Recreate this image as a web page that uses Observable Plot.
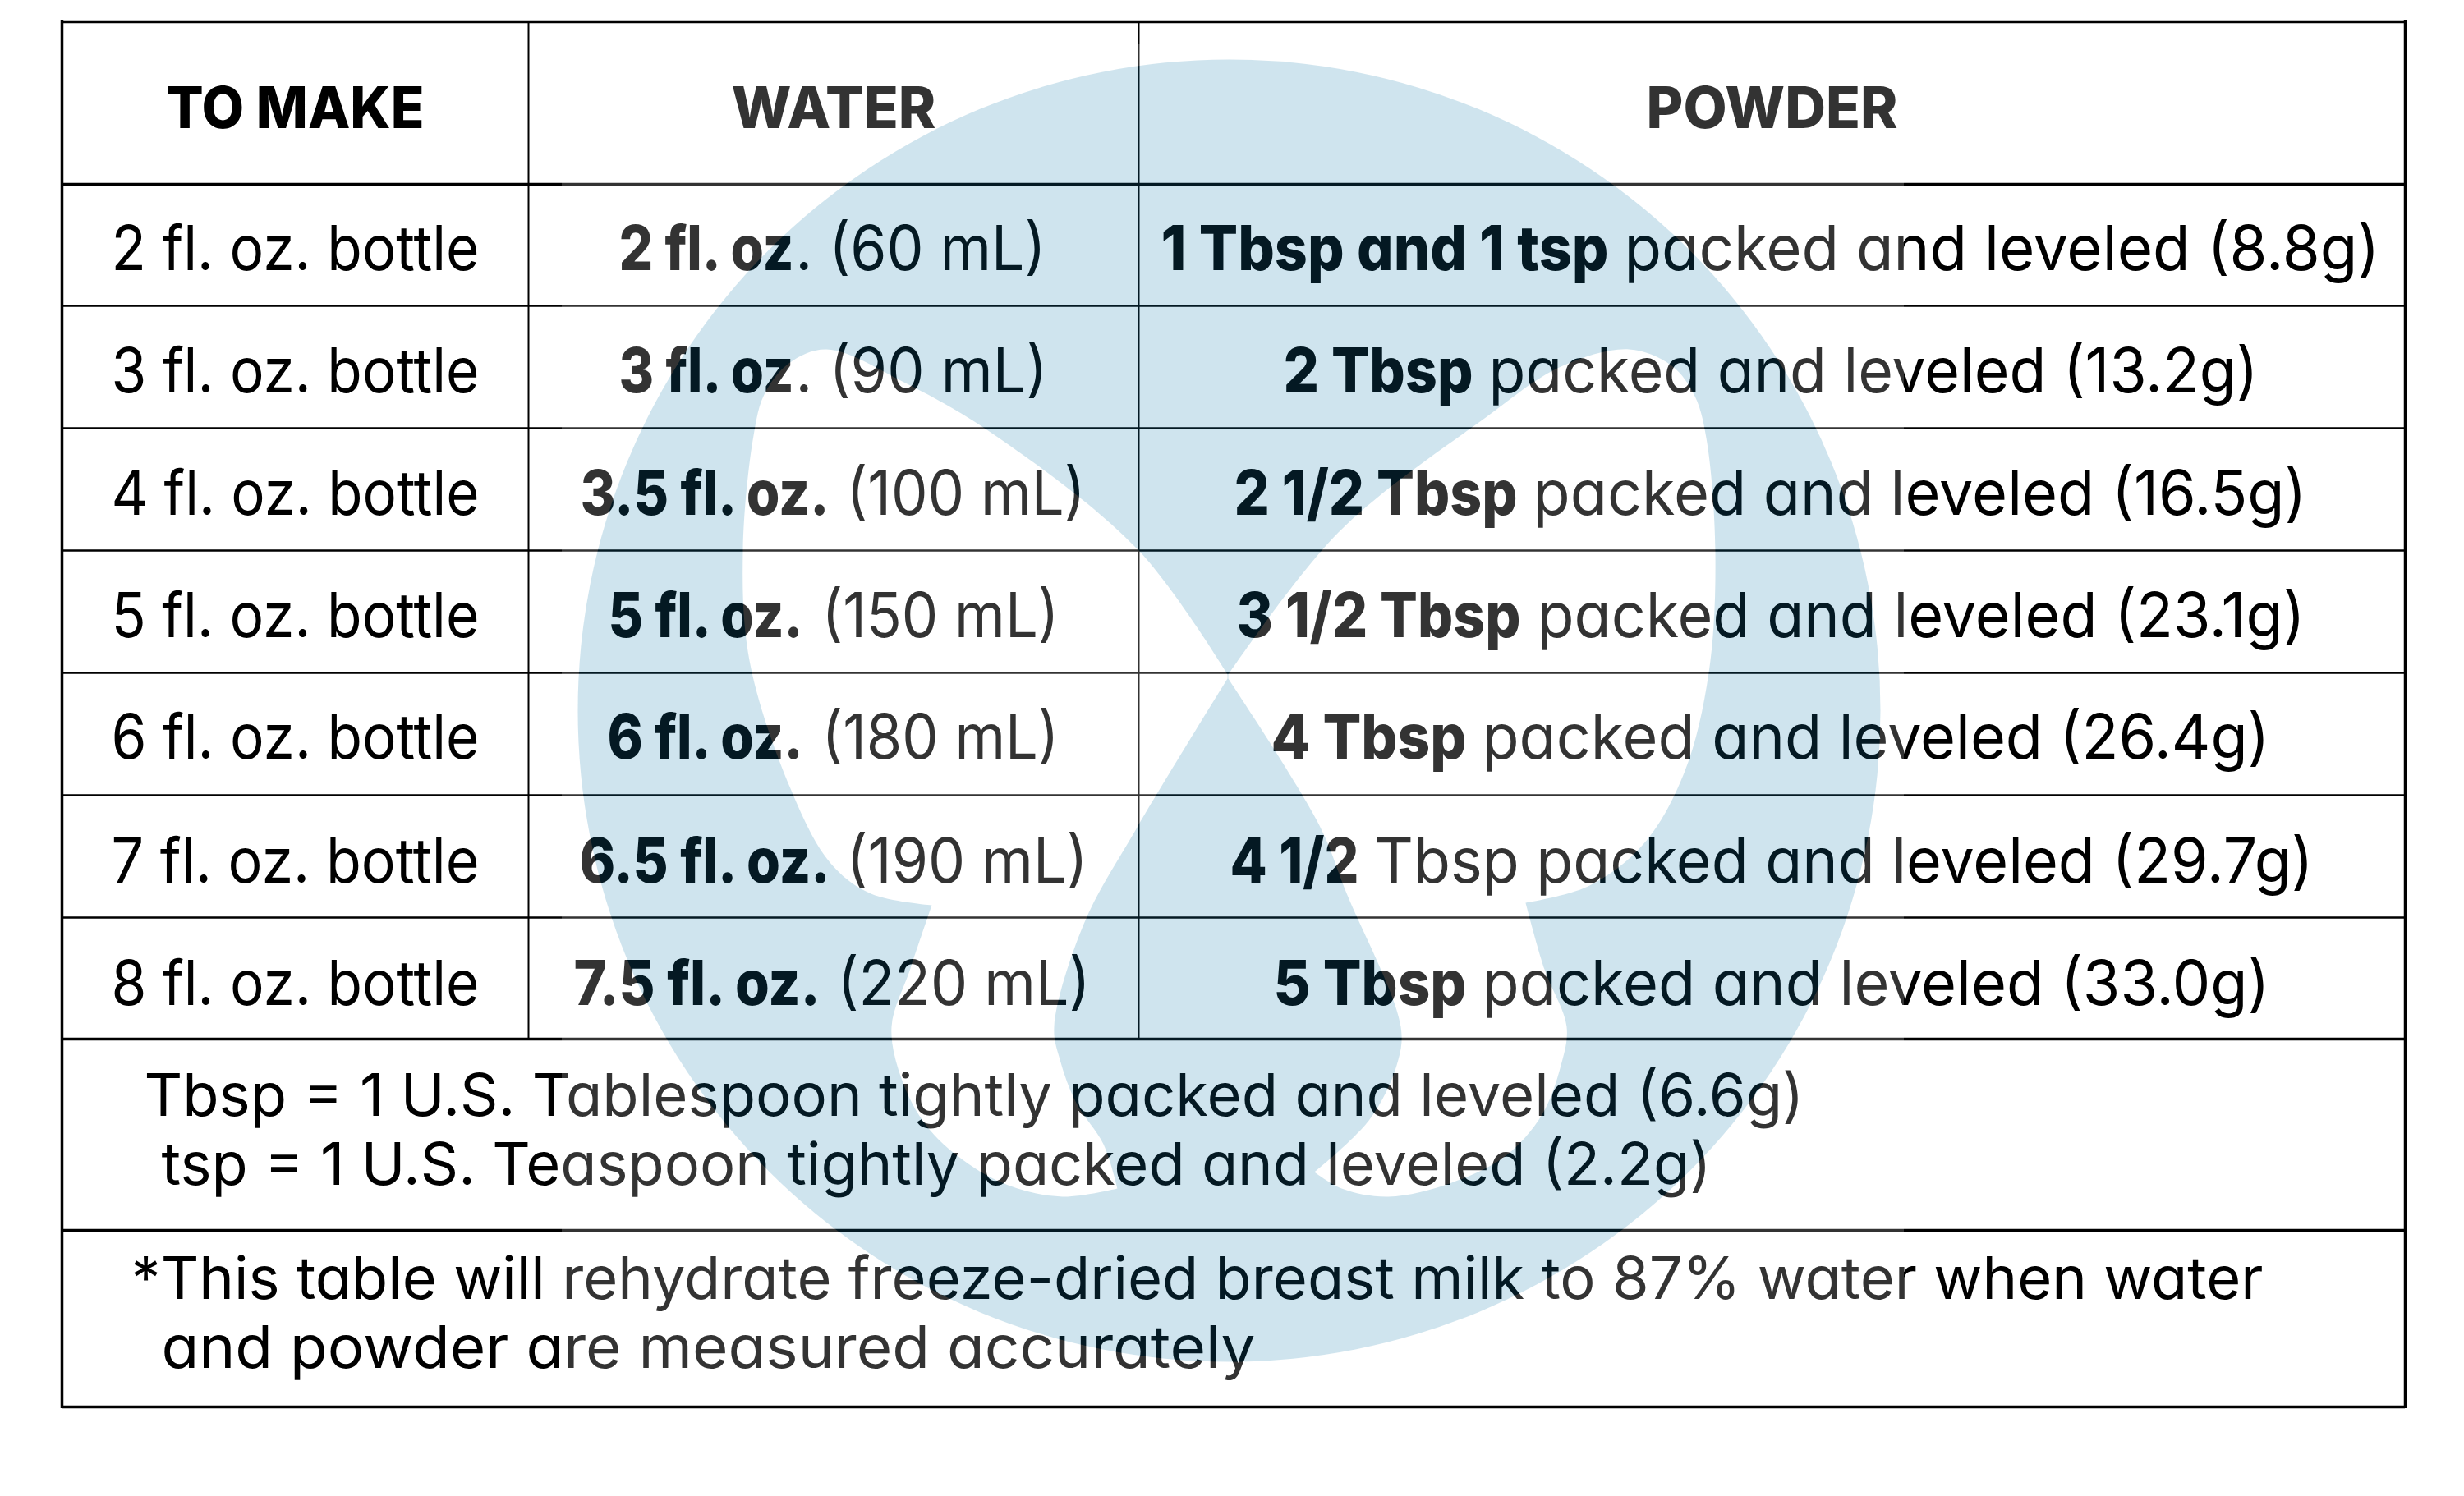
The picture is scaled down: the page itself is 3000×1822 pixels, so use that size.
<!DOCTYPE html>
<html>
<head>
<meta charset="utf-8">
<script src="https://cdn.jsdelivr.net/npm/d3@7"></script>
<script src="https://cdn.jsdelivr.net/npm/@observablehq/plot@0.6"></script>
<style>
html,body{margin:0;padding:0;background:#fff}
svg text{font-feature-settings:"cv11" 1}
</style>
</head>
<body>
<div id="chart"></div>
<script>
// ---- table content ----
const headers = ["TO MAKE", "WATER", "POWDER"];
const bottles = ["2 fl. oz. bottle","3 fl. oz. bottle","4 fl. oz. bottle","5 fl. oz. bottle","6 fl. oz. bottle","7 fl. oz. bottle","8 fl. oz. bottle"];
const waterBold = ["2 fl. oz","3 fl. oz","3.5 fl. oz.","5 fl. oz.","6 fl. oz.","6.5 fl. oz.","7.5 fl. oz."];
const waterNote = [". (60 mL)",". (90 mL)","(100 mL)","(150 mL)","(180 mL)","(190 mL)","(220 mL)"];
const powderBold = ["1 Tbsp and 1 tsp","2 Tbsp","2 1/2 Tbsp","3 1/2 Tbsp","4 Tbsp","4 1/2","5 Tbsp"];
const powderNote = ["packed and leveled (8.8g)","packed and leveled (13.2g)","packed and leveled (16.5g)","packed and leveled (23.1g)","packed and leveled (26.4g)","Tbsp packed and leveled (29.7g)","packed and leveled (33.0g)"];
const footnotes = ["Tbsp = 1 U.S. Tablespoon tightly packed and leveled (6.6g)","tsp = 1 U.S. Teaspoon tightly packed and leveled (2.2g)","*This table will rehydrate freeze-dried breast milk to 87% water when water","and powder are measured accurately"];

// ---- layout (page units) ----
const W = 3000, H = 1822;
const rowBase = [328,477,626,775,923,1074,1223];
const headerSpan = [[202,516],[890,1139],[2004,2310]];
const headerBase = 155;
const bottleSpan = [135,583];
const waterBoldSpan = [[753,966],[753,966],[706,1009],[740,977],[739,977],[705,1010],[698,998]];
const waterNoteSpan = [[968,1273],[968,1275],[1030,1321],[1000,1289],[1000,1289],[1030,1324],[1019,1327]];
const powderBoldSpan = [[1413,1958],[1562,1793],[1502,1847],[1505,1851],[1547,1785],[1497,1654],[1550,1785]];
const powderNoteSpan = [[1977,2897],[1812,2749],[1866,2808],[1871,2806],[1804,2763],[1673,2816],[1804,2763]];
const footSpan = [[175,2196],[196,2083],[159,2755],[196,1528]];
const footBase = [1358,1442,1581,1665];
const thickRows = [26,224,1265,1498,1713];
const thinRows = [372,521,670,819,968,1117];
const tableLeft = 75, tableRight = 2928, innerCols = [643,1386];

// ---- watermark outline (page units), cusps doubled ----
const leftLobe = [[1494,821],[1386,670],[1207,527],[1100,465],[1006,425],[960,442],[930,480],[917,530],[904,670],[912,804],[962,960],[1010,1050],[1060,1088],[1134,1102],[1134,1102],[1108,1179],[1085,1250],[1097,1313],[1127,1370],[1173,1413],[1227,1443],[1293,1457],[1360,1447],[1360,1447],[1343,1393],[1310,1343],[1290,1290],[1283,1250],[1319,1125],[1383,1009],[1494,826]];
const rightLobe = [[1495,821],[1629,648],[1807,509],[1900,446],[1983,425],[2035,445],[2063,482],[2077,533],[2088,671],[2080,819],[2050,941],[2000,1028],[1933,1079],[1857,1099],[1857,1099],[1880,1180],[1907,1250],[1900,1297],[1877,1357],[1833,1407],[1767,1440],[1690,1457],[1633,1447],[1600,1427],[1600,1427],[1667,1363],[1700,1297],[1705,1250],[1638,1085],[1606,1005],[1495,826]];

const boldSegs = [], regSegs = [];
const seg = (list, text, span, y, size) => list.push({text, x: span[0], x1: span[1], y, size});
headers.forEach((t,i) => seg(boldSegs, t, headerSpan[i], headerBase, 70));
rowBase.forEach((y,i) => {
  seg(regSegs, bottles[i], bottleSpan, y, 76);
  seg(boldSegs, waterBold[i], waterBoldSpan[i], y, 76);
  seg(regSegs, waterNote[i], waterNoteSpan[i], y, 76);
  seg(boldSegs, powderBold[i], powderBoldSpan[i], y, 76);
  seg(regSegs, powderNote[i], powderNoteSpan[i], y, 76);
});
footnotes.forEach((t,i) => seg(regSegs, t, footSpan[i], footBase[i], 72));

const textOpts = {x:"x", y:"y", text:"text", fontSize:"size", textAnchor:"start", lineAnchor:"bottom", fill:"#000", fontFamily:"Inter"};
const chart = Plot.plot({
  width: W, height: H, margin: 0,
  x: {domain:[0,W], range:[0,W], axis:null},
  y: {domain:[0,H], range:[0,H], axis:null},
  style: {background:"#fff"},
  marks: [
    Plot.ruleY(thinRows, {x1:tableLeft, x2:tableRight, stroke:"#000", strokeWidth:2.5}),
    Plot.ruleY(thickRows, {x1:tableLeft, x2:tableRight, stroke:"#000", strokeWidth:3.5}),
    Plot.ruleX(innerCols, {y1:26, y2:1265, stroke:"#000", strokeWidth:2}),
    Plot.ruleX([tableLeft, tableRight], {y1:24, y2:1715, stroke:"#000", strokeWidth:3.5}),
    Plot.text(regSegs, {...textOpts, fontWeight:400}),
    Plot.text(boldSegs, {...textOpts, fontWeight:800}),
    Plot.rect([{x1:684,x2:2318,y1:54,y2:1688}], {x1:"x1",x2:"x2",y1:"y1",y2:"y2",fill:"#fff"}),
    Plot.dot([{x:1496,y:865}], {x:"x",y:"y",r:793,fill:"#147dad",stroke:"none"}),
    Plot.line(leftLobe, {fill:"#fff",stroke:"none",curve:"catmull-rom"}),
    Plot.line(rightLobe, {fill:"#fff",stroke:"none",curve:"catmull-rom"})
  ]
});

// marks in their plotted order
const groups = [...chart.querySelectorAll(":scope > g")];
// fit each text run to the width measured on the reference
[[groups[4],regSegs],[groups[5],boldSegs]].forEach(([g,list]) => {
  g.querySelectorAll("text").forEach((el,i) => {
    el.setAttribute("textLength", list[i].x1 - list[i].x);
    el.setAttribute("lengthAdjust", "spacingAndGlyphs");
  });
});
// the watermark is one translucent sheet lying over the table
const sheet = document.createElementNS("http://www.w3.org/2000/svg","g");
sheet.setAttribute("opacity","0.2");
chart.insertBefore(sheet, groups[6]);
groups.slice(6).forEach(p => sheet.appendChild(p));

document.getElementById("chart").appendChild(chart);
</script>
</body>
</html>
